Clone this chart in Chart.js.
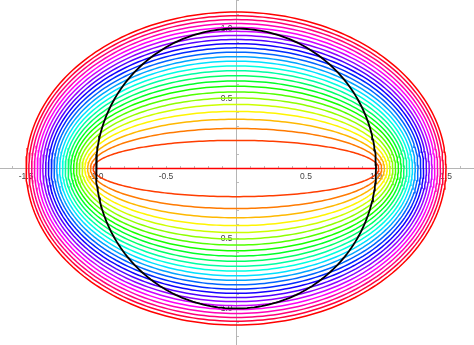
<!DOCTYPE html>
<html>
<head>
<meta charset="utf-8">
<script src="https://cdn.jsdelivr.net/npm/chart.js@4/dist/chart.umd.min.js"></script>
<style>
  html, body { margin: 0; padding: 0; background: #fff; }
</style>
</head>
<body>
<canvas id="chart" width="474" height="345"></canvas>
<script>
// confocal ellipses, foci at +-1 (semi axes)
const semiMajor = [1.00, 1.02, 1.04, 1.06, 1.08, 1.10, 1.12, 1.14, 1.16, 1.18, 1.20, 1.22, 1.24,
                   1.26, 1.28, 1.30, 1.32, 1.34, 1.36, 1.38, 1.40, 1.42, 1.44, 1.46, 1.48, 1.50];
const semiMinor = [0.000, 0.201, 0.286, 0.352, 0.408, 0.458, 0.504, 0.547, 0.588, 0.626, 0.663, 0.699, 0.733,
                   0.767, 0.799, 0.831, 0.862, 0.892, 0.922, 0.951, 0.980, 1.008, 1.036, 1.064, 1.091, 1.118];
const circleRadius = 1.0;

const xTickLabels = [-1.5, -1.0, -0.5, 0.5, 1.0, 1.5];
const yTickLabels = [-1.0, -0.5, 0.5, 1.0];

const xMin = -1.686, xMax = 1.7;
const yMin = -1.261, yMax = 1.204;

function ellipsePoints(a, b) {
    const pts = [];
    const n = 240;
    for (let i = 0; i <= n; i++) {
        const t = 2 * Math.PI * i / n;
        pts.push({ x: a * Math.cos(t), y: b * Math.sin(t) });
    }
    return pts;
}

const datasets = [];
// black unit circle goes first so it is drawn on top
datasets.push({
    data: ellipsePoints(circleRadius, circleRadius),
    borderColor: '#000',
    borderWidth: 1.8
});
semiMajor.forEach((a, k) => {
    const hue = 360 * k / (semiMajor.length - 1);
    datasets.push({
        data: ellipsePoints(a, semiMinor[k]),
        borderColor: `hsl(${hue}, 100%, 50%)`,
        borderWidth: 1.5
    });
});

const labelFont = { family: 'Liberation Sans, Arial, sans-serif', size: 8.5 };

function tickText(list) {
    return (v) => {
        const r = Math.round(v * 10) / 10;
        return list.includes(r) ? r.toFixed(1) : '';
    };
}

// axes sit on the origin, so they must not take room from the plot
function flatX(s) { s.height = 0; s.paddingLeft = 0; s.paddingRight = 0; s.paddingTop = 0; s.paddingBottom = 0; }
function flatY(s) { s.width = 0; s.paddingLeft = 0; s.paddingRight = 0; s.paddingTop = 0; s.paddingBottom = 0; }

new Chart(document.getElementById('chart'), {
    type: 'scatter',
    data: { datasets },
    options: {
        responsive: false,
        animation: false,
        events: [],
        layout: { padding: 0 },
        datasets: {
            scatter: { showLine: true, pointRadius: 0, fill: false, tension: 0 }
        },
        plugins: { legend: { display: false }, tooltip: { enabled: false } },
        scales: {
            x: {
                type: 'linear', min: xMin, max: xMax, position: { y: 0 },
                afterFit: flatX,
                border: { color: '#b5b5b5', width: 1 },
                grid: { drawOnChartArea: false, tickLength: -3, tickColor: '#bdbdbd' },
                ticks: { display: false, stepSize: 0.1, includeBounds: false }
            },
            y: {
                type: 'linear', min: yMin, max: yMax, position: { x: 0 },
                afterFit: flatY,
                border: { color: '#b5b5b5', width: 1 },
                grid: { drawOnChartArea: false, tickLength: -3, tickColor: '#bdbdbd' },
                ticks: { display: false, stepSize: 0.1, includeBounds: false }
            },
            xl: {
                type: 'linear', axis: 'x', min: xMin, max: xMax, position: { y: 0 }, z: 1,
                afterFit: flatX,
                border: { display: false },
                grid: { display: false },
                ticks: {
                    stepSize: 0.5, includeBounds: false, autoSkip: false, maxRotation: 0,
                    padding: -5, color: '#444', font: labelFont,
                    callback: tickText(xTickLabels)
                }
            },
            yl: {
                // labels only; anchored a few pixels left of the y axis line
                type: 'linear', axis: 'y', min: yMin, max: yMax, position: { x: -0.025 }, z: 1,
                afterFit: flatY,
                border: { display: false },
                grid: { display: false },
                ticks: {
                    stepSize: 0.5, includeBounds: false, autoSkip: false,
                    color: '#444', font: labelFont,
                    callback: tickText(yTickLabels)
                }
            }
        }
    }
});
</script>
</body>
</html>
